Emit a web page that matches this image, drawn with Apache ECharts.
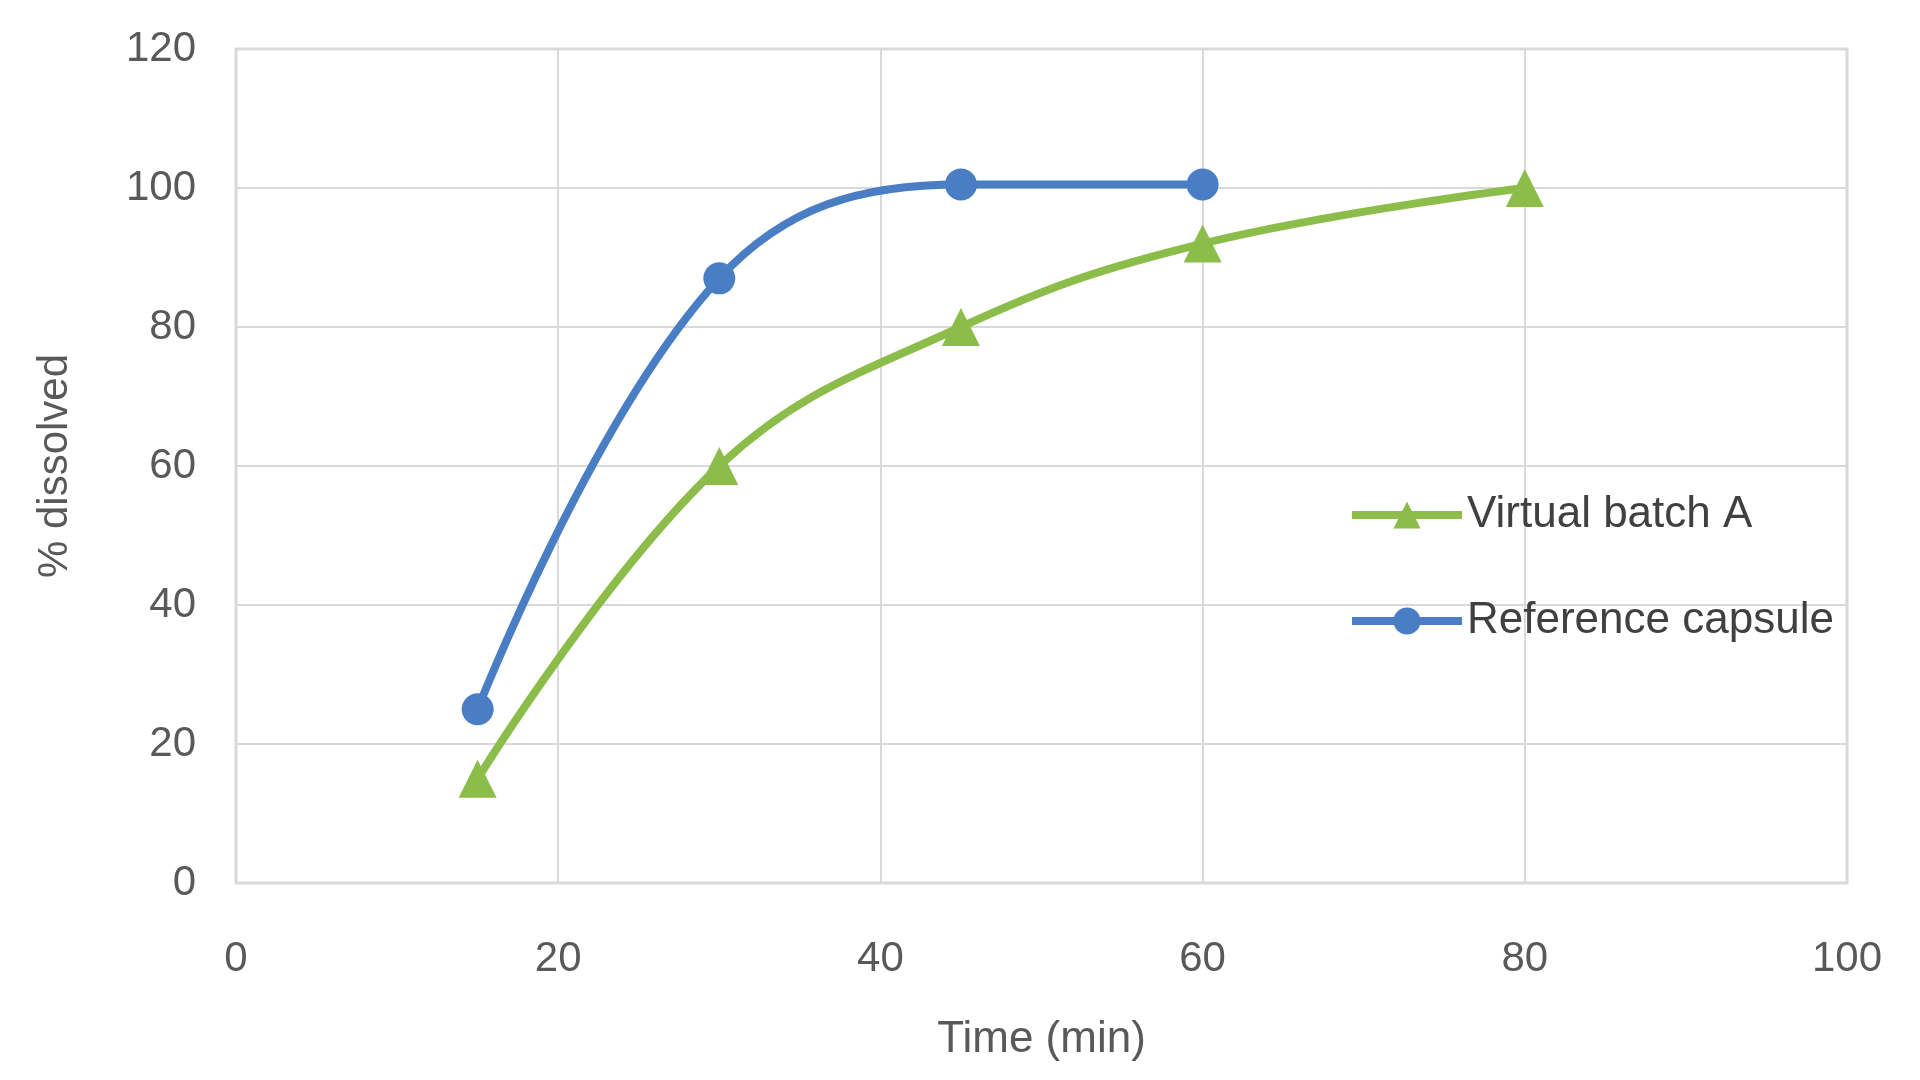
<!DOCTYPE html>
<html>
<head>
<meta charset="UTF-8">
<title>Dissolution</title>
<script src="https://cdn.jsdelivr.net/npm/echarts@6/dist/echarts.min.js"></script>
<style>html,body{margin:0;background:#fff}#c{width:1920px;height:1080px}</style>
</head>
<body>
<div id="c"></div>
<script>
var virtualTime = [15, 30, 45, 60, 80];
var virtualVal = [15, 60, 80, 92, 100];
var refTime = [15, 30, 45, 60];
var refVal = [25, 87, 100.5, 100.5];

function pairs(xs, ys) { return xs.map(function (x, i) { return [x, ys[i]]; }); }

var chart = echarts.init(document.getElementById('c'), null, {renderer: 'canvas'});
var font = 'Liberation Sans';
var axisText = {color: '#595959', fontSize: 42, fontFamily: font};
chart.setOption({
    animation: false,
    grid: {left: 236, right: 73, top: 49, bottom: 197, show: true, borderColor: '#d9d9d9', borderWidth: 3},
    legend: {
        orient: 'vertical', left: 1343, top: 488, itemGap: 62,
        itemWidth: 110, itemHeight: 34,
        lineStyle: {width: 8},
        textStyle: {color: '#404040', fontSize: 44, fontFamily: font},
        data: ['Virtual batch A', 'Reference capsule']
    },
    xAxis: {
        type: 'value', min: 0, max: 100, interval: 20,
        name: 'Time (min)', nameLocation: 'middle', nameGap: 135,
        nameTextStyle: {color: '#595959', fontSize: 44, fontFamily: font},
        axisLine: {show: false}, axisTick: {show: false},
        axisLabel: Object.assign({margin: 55}, axisText),
        splitLine: {lineStyle: {color: '#d9d9d9', width: 2}}
    },
    yAxis: {
        type: 'value', min: 0, max: 120, interval: 20,
        name: '% dissolved', nameLocation: 'middle', nameGap: 160,
        nameTextStyle: {color: '#595959', fontSize: 42, fontFamily: font},
        axisLine: {show: false}, axisTick: {show: false},
        axisLabel: Object.assign({margin: 40}, axisText),
        splitLine: {lineStyle: {color: '#d9d9d9', width: 2}}
    },
    series: [
        {
            name: 'Virtual batch A', type: 'line', smooth: 0.4,
            data: pairs(virtualTime, virtualVal),
            symbol: 'triangle', symbolSize: 38,
            lineStyle: {color: '#8cbd4a', width: 8},
            itemStyle: {color: '#8cbd4a'}
        },
        {
            name: 'Reference capsule', type: 'line', smooth: 0.4,
            data: pairs(refTime, refVal),
            symbol: 'circle', symbolSize: 32,
            lineStyle: {color: '#4a7ec4', width: 8},
            itemStyle: {color: '#4a7ec4'}
        }
    ]
});
</script>
</body>
</html>
